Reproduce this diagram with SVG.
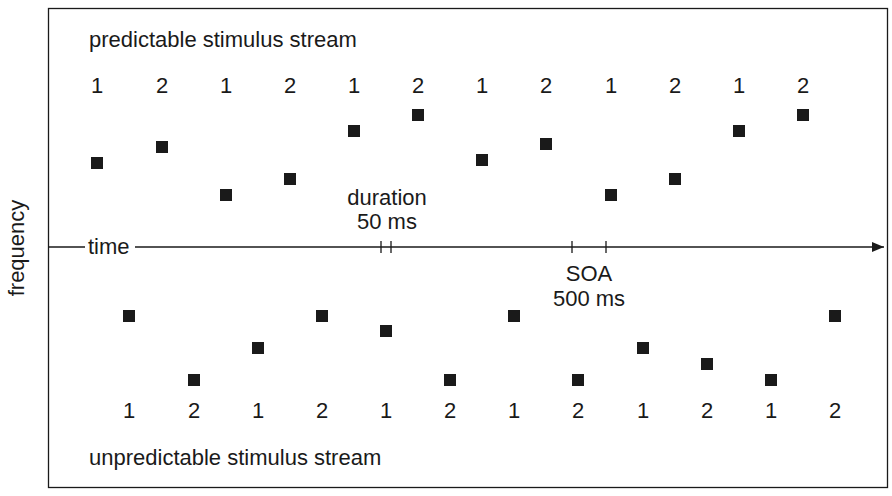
<svg xmlns="http://www.w3.org/2000/svg" width="892" height="496" viewBox="0 0 892 496">
<style>
text{font-family:"Liberation Sans",Arial,sans-serif;font-size:22px;fill:#1a1a1a}
.n{text-anchor:middle}
.s{fill:#1a1a1a}
.l{stroke:#1a1a1a;stroke-width:1.3;fill:none}
</style>
<defs><marker id="a" markerWidth="12" markerHeight="10" refX="12" refY="5" orient="auto" markerUnits="userSpaceOnUse"><path d="M0,0L12,5L0,10z" fill="#1a1a1a"/></marker></defs>
<rect x="48.5" y="8.5" width="839" height="479" fill="#fff" stroke="#1a1a1a" stroke-width="1.3"/>
<text transform="translate(24,248) rotate(-90)" class="n">frequency</text>
<g id="connectors">
<path class="l" d="M48,247H85"/>
<path class="l" d="M135,247H884" marker-end="url(#a)"/>
<path class="l" d="M381,241V253M391,241V253M572,241V253M606,241V253"/>
</g>
<text x="88" y="254">time</text>
<text x="387" y="205" class="n">duration</text>
<text x="387" y="229" class="n">50 ms</text>
<text x="589" y="281" class="n">SOA</text>
<text x="589" y="306" class="n">500 ms</text>
<text x="89" y="47">predictable stimulus stream</text>
<text x="89" y="465">unpredictable stimulus stream</text>
<g id="top">
<g class="s">
<rect x="91" y="157" width="12" height="12"/><rect x="156" y="141" width="12" height="12"/><rect x="220" y="189" width="12" height="12"/><rect x="284" y="173" width="12" height="12"/><rect x="348" y="125" width="12" height="12"/><rect x="412" y="109" width="12" height="12"/><rect x="476" y="154" width="12" height="12"/><rect x="540" y="138" width="12" height="12"/><rect x="605" y="189" width="12" height="12"/><rect x="669" y="173" width="12" height="12"/><rect x="733" y="125" width="12" height="12"/><rect x="797" y="109" width="12" height="12"/>
</g>
<text x="97" y="93" class="n">1</text><text x="162" y="93" class="n">2</text><text x="226" y="93" class="n">1</text><text x="290" y="93" class="n">2</text><text x="354" y="93" class="n">1</text><text x="418" y="93" class="n">2</text><text x="482" y="93" class="n">1</text><text x="546" y="93" class="n">2</text><text x="611" y="93" class="n">1</text><text x="675" y="93" class="n">2</text><text x="739" y="93" class="n">1</text><text x="803" y="93" class="n">2</text>
</g>
<g id="bottom">
<g class="s">
<rect x="123" y="310" width="12" height="12"/><rect x="188" y="374" width="12" height="12"/><rect x="252" y="342" width="12" height="12"/><rect x="316" y="310" width="12" height="12"/><rect x="380" y="325" width="12" height="12"/><rect x="444" y="374" width="12" height="12"/><rect x="508" y="310" width="12" height="12"/><rect x="572" y="374" width="12" height="12"/><rect x="637" y="342" width="12" height="12"/><rect x="701" y="358" width="12" height="12"/><rect x="765" y="374" width="12" height="12"/><rect x="829" y="310" width="12" height="12"/>
</g>
<text x="129" y="418" class="n">1</text><text x="194" y="418" class="n">2</text><text x="258" y="418" class="n">1</text><text x="322" y="418" class="n">2</text><text x="386" y="418" class="n">1</text><text x="450" y="418" class="n">2</text><text x="514" y="418" class="n">1</text><text x="578" y="418" class="n">2</text><text x="643" y="418" class="n">1</text><text x="707" y="418" class="n">2</text><text x="771" y="418" class="n">1</text><text x="835" y="418" class="n">2</text>
</g>
</svg>
